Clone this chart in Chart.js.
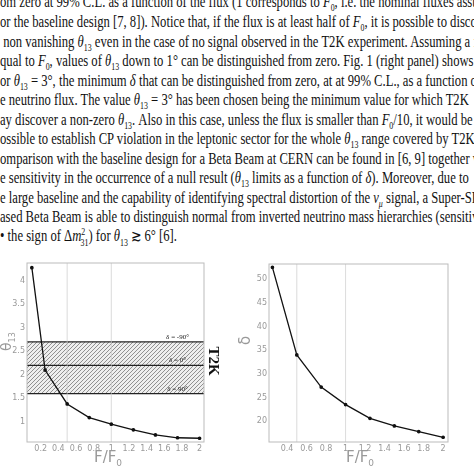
<!DOCTYPE html>
<html>
<head>
<meta charset="utf-8">
<script src="https://cdn.jsdelivr.net/npm/chart.js@4.4.0/dist/chart.umd.min.js"></script>
<style>
  body { margin: 0; width: 474px; height: 474px; overflow: hidden; background: #fff; position: relative; }
  #text { position: absolute; left: 0; top: 0; width: 600px; font: 16px "Liberation Serif", serif; color: #111; transform: scaleX(0.79); transform-origin: 0 0; }
  #text div { position: absolute; left: 0; white-space: nowrap; }
  .lbl { position: absolute; font-family: "DejaVu Sans", sans-serif; color: #999; }
  canvas { position: absolute; }
</style>
</head>
<body>
<div id="text">
  <div style="top:-7px">om zero at 99% C.L. as a function of the flux (1 corresponds to <i>F</i><sub style="font-size:10px">0</sub>, i.e. the nominal fluxes assumed</div>
  <div style="top:13px">or the baseline design [7, 8]). Notice that, if the flux is at least half of <i>F</i><sub style="font-size:10px">0</sub>, it is possible to discover</div>
  <div style="top:33px">&nbsp;non vanishing <i>θ</i><sub style="font-size:10px">13</sub> even in the case of no signal observed in the T2K experiment. Assuming a flux</div>
  <div style="top:52px">qual to <i>F</i><sub style="font-size:10px">0</sub>, values of <i>θ</i><sub style="font-size:10px">13</sub> down to 1° can be distinguished from zero. Fig. 1 (right panel) shows</div>
  <div style="top:72px">or <i>θ</i><sub style="font-size:10px">13</sub> = 3°, the minimum <i>δ</i> that can be distinguished from zero, at at 99% C.L., as a function of</div>
  <div style="top:91px">e neutrino flux. The value <i>θ</i><sub style="font-size:10px">13</sub> = 3° has been chosen being the minimum value for which T2K</div>
  <div style="top:111px">ay discover a non-zero <i>θ</i><sub style="font-size:10px">13</sub>. Also in this case, unless the flux is smaller than <i>F</i><sub style="font-size:10px">0</sub>/10, it would be</div>
  <div style="top:130px">ossible to establish CP violation in the leptonic sector for the whole <i>θ</i><sub style="font-size:10px">13</sub> range covered by T2K.</div>
  <div style="top:150px">omparison with the baseline design for a Beta Beam at CERN can be found in [6, 9] together with</div>
  <div style="top:169px">e sensitivity in the occurrence of a null result (<i>θ</i><sub style="font-size:10px">13</sub> limits as a function of <i>δ</i>). Moreover, due to</div>
  <div style="top:189px">e large baseline and the capability of identifying spectral distortion of the <i>ν<sub style="font-size:10px">μ</sub></i> signal, a Super-SPL</div>
  <div style="top:208px">ased Beta Beam is able to distinguish normal from inverted neutrino mass hierarchies (sensitivity</div>
  <div style="top:226px">• the sign of Δ<i>m</i><sup style="font-size:10px">2</sup><sub style="font-size:10px;margin-left:-6px">31</sub>) for <i>θ</i><sub style="font-size:10px">13</sub> ≳ 6° [6].</div>
</div>

<canvas id="left" style="left:0;top:255px" width="237" height="219"></canvas>
<canvas id="right" style="left:237px;top:255px" width="237" height="219"></canvas>

<div class="lbl" style="left:-5px;top:330px;width:24px;height:18px;font-size:14px;transform:rotate(-90deg)">θ<sub style="font-size:8px">13</sub></div>
<div class="lbl" style="left:94px;top:448px;font-size:15px">F/F<sub style="font-size:9px">0</sub></div>
<div class="lbl" style="left:240px;top:331px;width:10px;height:18px;font-size:15px;transform:rotate(-90deg)">δ</div>
<div class="lbl" style="left:346px;top:448px;font-size:15px">F/F<sub style="font-size:9px">0</sub></div>
<div style="position:absolute;left:197px;top:354px;width:32px;height:17px;font:bold 15px 'Liberation Serif',serif;color:#111;transform:rotate(90deg)">T2K</div>

<script>
// left panel: theta13 discovery vs flux
const fluxLeft = [0.1, 0.25, 0.5, 0.75, 1, 1.25, 1.5, 1.75, 2];
const theta13 = [4.28, 2.1, 1.38, 1.09, 0.95, 0.83, 0.72, 0.66, 0.65];
const t2kLines = [2.7, 2.2, 1.6];
const t2kLabels = ['δ = -90°', 'δ = 0°', 'δ = 90°'];
const leftXTicks = [0.2, 0.4, 0.6, 0.8, 1, 1.2, 1.4, 1.6, 1.8, 2];
const leftYTicks = [1, 1.5, 2, 2.5, 3, 3.5, 4];

// right panel: minimum delta vs flux
const fluxRight = [0.25, 0.5, 0.75, 1, 1.25, 1.5, 1.75, 2];
const deltaMin = [52.5, 34, 27.2, 23.5, 20.6, 19, 17.8, 16.6];
const rightXTicks = [0.4, 0.6, 0.8, 1, 1.2, 1.4, 1.6, 1.8, 2];
const rightYTicks = [20, 25, 30, 35, 40, 45, 50];

const gridAt = [0.5, 1];

function hatch(ctx) {
    const c = document.createElement('canvas');
    c.width = 4; c.height = 4;
    const g = c.getContext('2d');
    g.fillStyle = '#eee';
    g.fillRect(0, 0, 4, 4);
    g.strokeStyle = '#777';
    g.lineWidth = 0.8;
    g.beginPath();
    g.moveTo(0, 4); g.lineTo(4, 0);
    g.moveTo(-1, 1); g.lineTo(1, -1);
    g.moveTo(3, 5); g.lineTo(5, 3);
    g.stroke();
    return ctx.createPattern(c, 'repeat');
}

const framePlugin = {
    id: 'frame',
    beforeDatasetsDraw(chart, args, opts) {
        const { ctx, chartArea: a, scales: { x, y } } = chart;
        ctx.save();
        if (opts.band) {
            const top = y.getPixelForValue(opts.band[0]);
            const bot = y.getPixelForValue(opts.band[opts.band.length - 1]);
            ctx.fillStyle = hatch(ctx);
            ctx.fillRect(a.left, top, a.right - a.left, bot - top);
            ctx.strokeStyle = '#222';
            ctx.lineWidth = 1.2;
            ctx.font = '7px "Liberation Serif", serif';
            ctx.fillStyle = '#222';
            ctx.textAlign = 'center';
            opts.band.forEach((v, i) => {
                const py = y.getPixelForValue(v);
                ctx.beginPath();
                ctx.moveTo(a.left, py); ctx.lineTo(a.right, py);
                ctx.stroke();
                ctx.fillText(opts.labels[i], x.getPixelForValue(1.75), py - 3);
            });
        }
        ctx.strokeStyle = '#ccc';
        ctx.lineWidth = 0.7;
        gridAt.forEach(v => {
            const px = x.getPixelForValue(v);
            ctx.beginPath();
            ctx.moveTo(px, a.top); ctx.lineTo(px, a.bottom);
            ctx.stroke();
        });
        ctx.strokeStyle = '#bbb';
        ctx.lineWidth = 1;
        ctx.strokeRect(a.left, a.top, a.right - a.left, a.bottom - a.top);
        ctx.restore();
    }
};

function makeChart(id, xs, ys, xr, yr, xt, yt, pad, frameOpts) {
    const tick = {
        color: '#999', font: { size: 8, family: 'DejaVu Sans' }, padding: 2,
        callback: v => String(Math.round(v * 10) / 10),
    };
    return new Chart(document.getElementById(id), {
        type: 'line',
        data: {
            datasets: [{
                data: xs.map((v, i) => ({ x: v, y: ys[i] })),
                borderColor: '#111',
                borderWidth: 1.3,
                pointRadius: 1.2,
                pointBackgroundColor: '#111',
                tension: 0,
            }]
        },
        options: {
            responsive: false,
            animation: false,
            layout: { padding: pad },
            plugins: { legend: { display: false }, tooltip: { enabled: false }, frame: frameOpts },
            scales: {
                x: {
                    type: 'linear', min: xr[0], max: xr[1],
                    grid: { display: false, drawTicks: false },
                    border: { display: false },
                    ticks: tick,
                    afterBuildTicks: s => { s.ticks = xt.map(v => ({ value: v })); },
                    afterFit: s => { s.height = 32; },
                },
                y: {
                    min: yr[0], max: yr[1],
                    grid: { display: false, drawTicks: false },
                    border: { display: false },
                    ticks: tick,
                    afterBuildTicks: s => { s.ticks = yt.map(v => ({ value: v })); },
                    afterFit: s => { s.width = pad.yw; },
                }
            }
        },
        plugins: [framePlugin]
    });
}

makeChart('left', fluxLeft, theta13, [0.045, 2.05], [0.57, 4.38], leftXTicks, leftYTicks,
    { top: 8, right: 33, left: 0, bottom: 0, yw: 27 }, { band: t2kLines, labels: t2kLabels });
makeChart('right', fluxRight, deltaMin, [0.215, 2.05], [15.6, 53.2], rightXTicks, rightYTicks,
    { top: 9, right: 26, left: 0, bottom: 0, yw: 32 }, {});
</script>
</body>
</html>
